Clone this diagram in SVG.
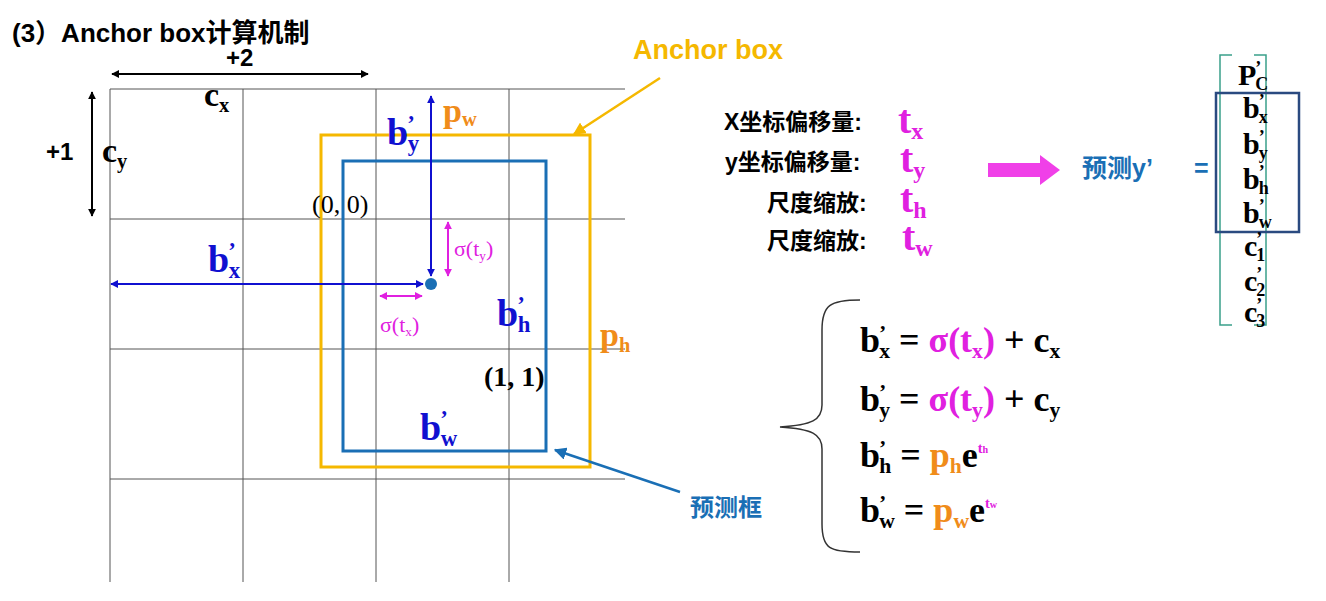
<svg xmlns="http://www.w3.org/2000/svg" width="1326" height="601" viewBox="0 0 1326 601">
<style>
.grid{stroke:#555;stroke-width:1;fill:none}
.t{font-family:"Liberation Sans","Noto Sans CJK SC",sans-serif;font-weight:bold}
.m{font-family:"Liberation Serif",serif;font-weight:bold}
.s{font-size:60%}
</style>
<defs>
<marker id="ak" viewBox="0 0 10 10" refX="9" refY="5" markerWidth="4" markerHeight="4" orient="auto-start-reverse"><path d="M0,0L10,5L0,10z" fill="#000"/></marker>
<marker id="ab" viewBox="0 0 10 10" refX="9" refY="5" markerWidth="4" markerHeight="4" orient="auto-start-reverse"><path d="M0,0L10,5L0,10z" fill="#1010d0"/></marker>
<marker id="am" viewBox="0 0 10 10" refX="9" refY="5" markerWidth="4" markerHeight="4" orient="auto-start-reverse"><path d="M0,0L10,5L0,10z" fill="#e020e0"/></marker>
<marker id="ay" viewBox="0 0 10 10" refX="9" refY="5" markerWidth="5" markerHeight="5" orient="auto"><path d="M0,0L10,5L0,10z" fill="#f5b800"/></marker>
<marker id="ac" viewBox="0 0 10 10" refX="9" refY="5" markerWidth="5" markerHeight="5" orient="auto"><path d="M0,0L10,5L0,10z" fill="#1a6fb5"/></marker>
</defs>
<rect width="1326" height="601" fill="#fff"/>
<text class="t" x="12" y="42" font-size="26">(3）Anchor box计算机制</text>
<g id="grid">
<path class="grid" d="M110,89H625M110,219H625M110,349H625M110,479H625M110,89V582M243,89V582M376,89V582M509,89V582"/>
</g>
<g id="anchor"><rect x="321" y="135" width="269" height="332" fill="none" stroke="#f5b800" stroke-width="3"/></g>
<g id="pred"><rect x="343" y="161" width="203" height="290" fill="none" stroke="#1a6fb5" stroke-width="3"/></g>
<g id="connectors">
<line x1="112" y1="74" x2="368" y2="74" stroke="#000" stroke-width="2" marker-start="url(#ak)" marker-end="url(#ak)"/>
<line x1="92" y1="92" x2="92" y2="216" stroke="#000" stroke-width="2" marker-start="url(#ak)" marker-end="url(#ak)"/>
<line x1="431" y1="96" x2="431" y2="276" stroke="#1010d0" stroke-width="2" marker-start="url(#ab)" marker-end="url(#ab)"/>
<line x1="111" y1="284" x2="423" y2="284" stroke="#1010d0" stroke-width="2" marker-start="url(#ab)" marker-end="url(#ab)"/>
<line x1="448" y1="222" x2="448" y2="276" stroke="#e020e0" stroke-width="2" marker-start="url(#am)" marker-end="url(#am)"/>
<line x1="380" y1="296" x2="422" y2="296" stroke="#e020e0" stroke-width="2" marker-start="url(#am)" marker-end="url(#am)"/>
<line x1="660" y1="78" x2="574" y2="134" stroke="#f5b800" stroke-width="2.5" marker-end="url(#ay)"/>
<line x1="680" y1="492" x2="555" y2="450" stroke="#1a6fb5" stroke-width="2.5" marker-end="url(#ac)"/>
<path d="M988,163h52v-8l20,15l-20,15v-8h-52z" fill="#f040e8"/>
</g>
<circle cx="431" cy="284" r="6" fill="#1a6fb5"/>
<g id="labels">
<text class="t" x="226" y="66" font-size="24">+2</text>
<text class="t" x="46" y="160" font-size="24">+1</text>
<text class="m" x="204" y="106" font-size="34">c<tspan class="s" dy="6">x</tspan></text>
<text class="m" x="102" y="162" font-size="34">c<tspan class="s" dy="6">y</tspan></text>
<text class="m" x="387" y="145" font-size="38" fill="#1010d0">b<tspan class="s" dy="-14" dx="-1">’</tspan><tspan class="s" dy="20" dx="-7">y</tspan></text>
<text class="m" x="443" y="122" font-size="34" fill="#f08c1a">p<tspan class="s" dy="4">w</tspan></text>
<text x="312" y="213" font-family="Liberation Serif,serif" font-size="26">(0, 0)</text>
<text class="m" x="208" y="272" font-size="38" fill="#1010d0">b<tspan class="s" dy="-14" dx="-1">’</tspan><tspan class="s" dy="20" dx="-7">x</tspan></text>
<text x="454" y="256" font-family="Liberation Serif,serif" font-size="22" fill="#e020e0">σ(t<tspan class="s" dy="4">y</tspan><tspan dy="-4">)</tspan></text>
<text x="380" y="332" font-family="Liberation Serif,serif" font-size="22" fill="#e020e0">σ(t<tspan class="s" dy="4">x</tspan><tspan dy="-4">)</tspan></text>
<text class="m" x="497" y="326" font-size="38" fill="#1010d0">b<tspan class="s" dy="-14" dx="-1">’</tspan><tspan class="s" dy="20" dx="-7">h</tspan></text>
<text class="m" x="600" y="346" font-size="34" fill="#f08c1a">p<tspan class="s" dy="6">h</tspan></text>
<text class="m" x="484" y="386" font-size="28">(1, 1)</text>
<text class="m" x="420" y="440" font-size="38" fill="#1010d0">b<tspan class="s" dy="-14" dx="-1">’</tspan><tspan class="s" dy="20" dx="-7">w</tspan></text>
<text class="t" x="633" y="59" font-size="27" fill="#f5b800">Anchor box</text>
<text class="t" x="690" y="516" font-size="24" fill="#1a6fb5">预测框</text>
<text class="t" x="724" y="130" font-size="23">X坐标偏移量:</text>
<text class="t" x="725" y="170" font-size="23">y坐标偏移量:</text>
<text class="t" x="767" y="211" font-size="23">尺度缩放:</text>
<text class="t" x="767" y="249" font-size="23">尺度缩放:</text>
<text class="m" x="898" y="133" font-size="40" fill="#e020e0">t<tspan class="s" dy="6">x</tspan></text>
<text class="m" x="900" y="172" font-size="40" fill="#e020e0">t<tspan class="s" dy="6">y</tspan></text>
<text class="m" x="900" y="212" font-size="40" fill="#e020e0">t<tspan class="s" dy="6">h</tspan></text>
<text class="m" x="902" y="250" font-size="40" fill="#e020e0">t<tspan class="s" dy="6">w</tspan></text>
<text class="t" x="1082" y="177" font-size="25" fill="#1a6fb5">预测y’</text>
<text class="t" x="1194" y="177" font-size="25" fill="#1a6fb5">=</text>
</g>
<g id="vector">
<path d="M1232,55h-12v270h12M1254,55h12v270h-12" fill="none" stroke="#3aa08a" stroke-width="1.5"/>
<rect x="1216" y="93" width="83" height="139" fill="none" stroke="#2a4a80" stroke-width="2.5"/>
<g class="m" font-size="30" text-anchor="start">
<text x="1238" y="85">P<tspan class="s" dy="-11" dx="-1">’</tspan><tspan class="s" dy="16" dx="-6">C</tspan></text>
<text x="1243" y="118">b<tspan class="s" dy="-11" dx="-1">’</tspan><tspan class="s" dy="16" dx="-6">x</tspan></text>
<text x="1243" y="154">b<tspan class="s" dy="-11" dx="-1">’</tspan><tspan class="s" dy="16" dx="-6">y</tspan></text>
<text x="1243" y="189">b<tspan class="s" dy="-11" dx="-1">’</tspan><tspan class="s" dy="16" dx="-6">h</tspan></text>
<text x="1243" y="223">b<tspan class="s" dy="-11" dx="-1">’</tspan><tspan class="s" dy="16" dx="-6">w</tspan></text>
<text x="1244" y="256">c<tspan class="s" dy="-11" dx="-1">’</tspan><tspan class="s" dy="16" dx="-6">1</tspan></text>
<text x="1244" y="291">c<tspan class="s" dy="-11" dx="-1">’</tspan><tspan class="s" dy="16" dx="-6">2</tspan></text>
<text x="1244" y="322">c<tspan class="s" dy="-11" dx="-1">’</tspan><tspan class="s" dy="16" dx="-6">3</tspan></text>
</g>
</g>
<g id="equations">
<path d="M860,300c-30,0 -38,5 -38,30v75c0,15 -10,20 -42,22c32,2 42,7 42,22v75c0,25 8,28 38,28" fill="none" stroke="#333" stroke-width="1.5"/>
<g class="m" font-size="36">
<text x="860" y="352">b<tspan class="s" dy="-12" dx="-1">’</tspan><tspan class="s" dy="18" dx="-7">x</tspan><tspan dy="-6"> = </tspan><tspan fill="#e020e0">σ(t<tspan class="s" dy="6">x</tspan><tspan dy="-6">)</tspan></tspan> + c<tspan class="s" dy="6">x</tspan></text>
<text x="860" y="411">b<tspan class="s" dy="-12" dx="-1">’</tspan><tspan class="s" dy="18" dx="-7">y</tspan><tspan dy="-6"> = </tspan><tspan fill="#e020e0">σ(t<tspan class="s" dy="6">y</tspan><tspan dy="-6">)</tspan></tspan> + c<tspan class="s" dy="6">y</tspan></text>
<text x="860" y="467">b<tspan class="s" dy="-12" dx="-1">’</tspan><tspan class="s" dy="18" dx="-7">h</tspan><tspan dy="-6"> = </tspan><tspan fill="#f08c1a">p<tspan class="s" dy="6">h</tspan></tspan><tspan dy="-6">e</tspan><tspan font-size="40%" dy="-14" fill="#e020e0">t<tspan font-size="70%">h</tspan></tspan></text>
<text x="860" y="522">b<tspan class="s" dy="-12" dx="-1">’</tspan><tspan class="s" dy="18" dx="-7">w</tspan><tspan dy="-6"> = </tspan><tspan fill="#f08c1a">p<tspan class="s" dy="6">w</tspan></tspan><tspan dy="-6">e</tspan><tspan font-size="40%" dy="-14" fill="#e020e0">t<tspan font-size="70%">w</tspan></tspan></text>
</g>
</g>
</svg>
